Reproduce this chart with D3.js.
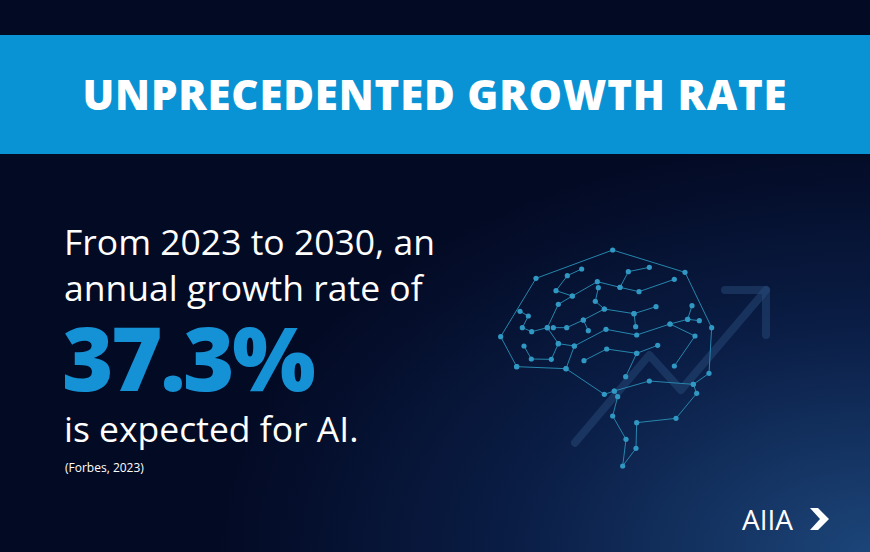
<!DOCTYPE html>
<html><head><meta charset="utf-8">
<script src="https://cdn.jsdelivr.net/npm/d3@7"></script>
<style>body{margin:0;background:#030a24}svg{display:block}</style>
</head><body>
<script>
// text content
var title = "UNPRECEDENTED GROWTH RATE";
var lines = ["From 2023 to 2030, an", "annual growth rate of"];
var rate = 37.3;
var tail = "is expected for AI.";
var source = "(Forbes, 2023)";

// brain network, in zoom-grid units (300x240 box at 490,240, scale 3)
var brainPaths = [
  [[80,380],[32,290],[138,115],[368,30],[585,97],[665,263],[657,400],[610,433]],
  [[80,380],[228,386],[343,463],[373,453],[478,423],[610,433],[620,460],[558,535],[440,548],[438,625],[398,678],[408,598],[368,528],[383,470],[373,453]],
  [[275,87],[232,107],[198,152],[247,168],[322,125],[390,142],[447,155],[553,118]],
  [[390,142],[415,95],[478,82]],
  [[247,168],[205,193],[172,263],[205,311],[253,318],[348,268],[440,285],[540,252],[593,238],[606,197]],
  [[593,238],[628,242]],
  [[540,252],[615,288],[553,378]],
  [[325,143],[316,184],[343,207],[432,221],[498,200]],
  [[432,221],[437,260]],
  [[343,207],[280,240],[230,263],[190,263]],
  [[280,240],[295,272]],
  [[90,214],[115,228],[97,263],[125,275],[172,263]],
  [[102,318],[124,357],[184,358],[205,311]],
  [[253,318],[228,386]],
  [[282,362],[350,327],[440,340],[503,316]],
  [[440,340],[407,410]]
];
var arrowLine = [[255,608],[478,345],[573,450],[828,150]];
var arrowHead = [[705,150],[828,150],[828,285]];

var W = 870, H = 552;
var svg = d3.select("body").append("svg").attr("width", W).attr("height", H);
var defs = svg.append("defs");
var g = defs.append("radialGradient").attr("id", "bg").attr("cx", 1).attr("cy", 1).attr("r", 0.75);
g.append("stop").attr("offset", "0").attr("stop-color", "#1c4579");
g.append("stop").attr("offset", "0.55").attr("stop-color", "#0a1d45");
g.append("stop").attr("offset", "1").attr("stop-color", "#030a24");
svg.append("rect").attr("width", W).attr("height", H).attr("fill", "url(#bg)");
svg.append("rect").attr("width", W).attr("height", 35).attr("fill", "#030a24");
svg.append("rect").attr("y", 35).attr("width", W).attr("height", 119).attr("fill", "#0a93d4");

svg.append("text").attr("x", W / 2).attr("y", 110).attr("text-anchor", "middle")
  .attr("fill", "#fff").attr("font-family", "Open Sans").attr("font-weight", 800)
  .attr("font-size", 42).attr("letter-spacing", 0.8).text(title);

var x = d3.scaleLinear().domain([0, 300]).range([490, 790]);
var y = d3.scaleLinear().domain([0, 240]).range([240, 480]);
var line = d3.line().x(function(d) { return x(d[0] / 3); }).y(function(d) { return y(d[1] / 3); });

var arrow = svg.append("g").attr("fill", "none").attr("stroke", "#2a4f7e").attr("stroke-opacity", 0.45)
  .attr("stroke-width", 8).attr("stroke-linecap", "round").attr("stroke-linejoin", "round");
arrow.append("path").attr("d", line(arrowLine));
arrow.append("path").attr("d", line(arrowHead));

var brain = svg.append("g");
brain.selectAll("path").data(brainPaths).enter().append("path")
  .attr("d", line).attr("fill", "none").attr("stroke", "#2686ad").attr("stroke-width", 1);
var nodes = [];
brainPaths.forEach(function(p) { p.forEach(function(q) { nodes.push(q); }); });
brain.selectAll("circle").data(nodes).enter().append("circle")
  .attr("cx", function(d) { return x(d[0] / 3); }).attr("cy", function(d) { return y(d[1] / 3); })
  .attr("r", 2.6).attr("fill", "#3098c2");

var font = "Open Sans";
svg.selectAll("text.l").data(lines).enter().append("text").attr("class", "l")
  .attr("x", 64).attr("y", function(d, i) { return 255 + i * 46; })
  .attr("fill", "#fff").attr("font-family", font).attr("font-size", 35.5).text(function(d) { return d; });
svg.append("text").attr("x", 62).attr("y", 391).attr("fill", "#1591d6")
  .attr("font-family", font).attr("font-weight", 800).attr("font-size", 88).attr("letter-spacing", -2.5)
  .text(rate + "%");
svg.append("text").attr("x", 64).attr("y", 442).attr("fill", "#fff")
  .attr("font-family", font).attr("font-size", 35.5).text(tail);
svg.append("text").attr("x", 65).attr("y", 472).attr("fill", "#fff")
  .attr("font-family", font).attr("font-size", 12).text(source);

svg.append("text").attr("x", 742).attr("y", 530).attr("fill", "#fff")
  .attr("font-family", "Open Sans").attr("font-size", 28).text("AIIA");
svg.append("path").attr("d", "M810,508 L818,508 L829,519 L818,530 L810,530 L820,519 Z").attr("fill", "#fff");
</script>
</body></html>
